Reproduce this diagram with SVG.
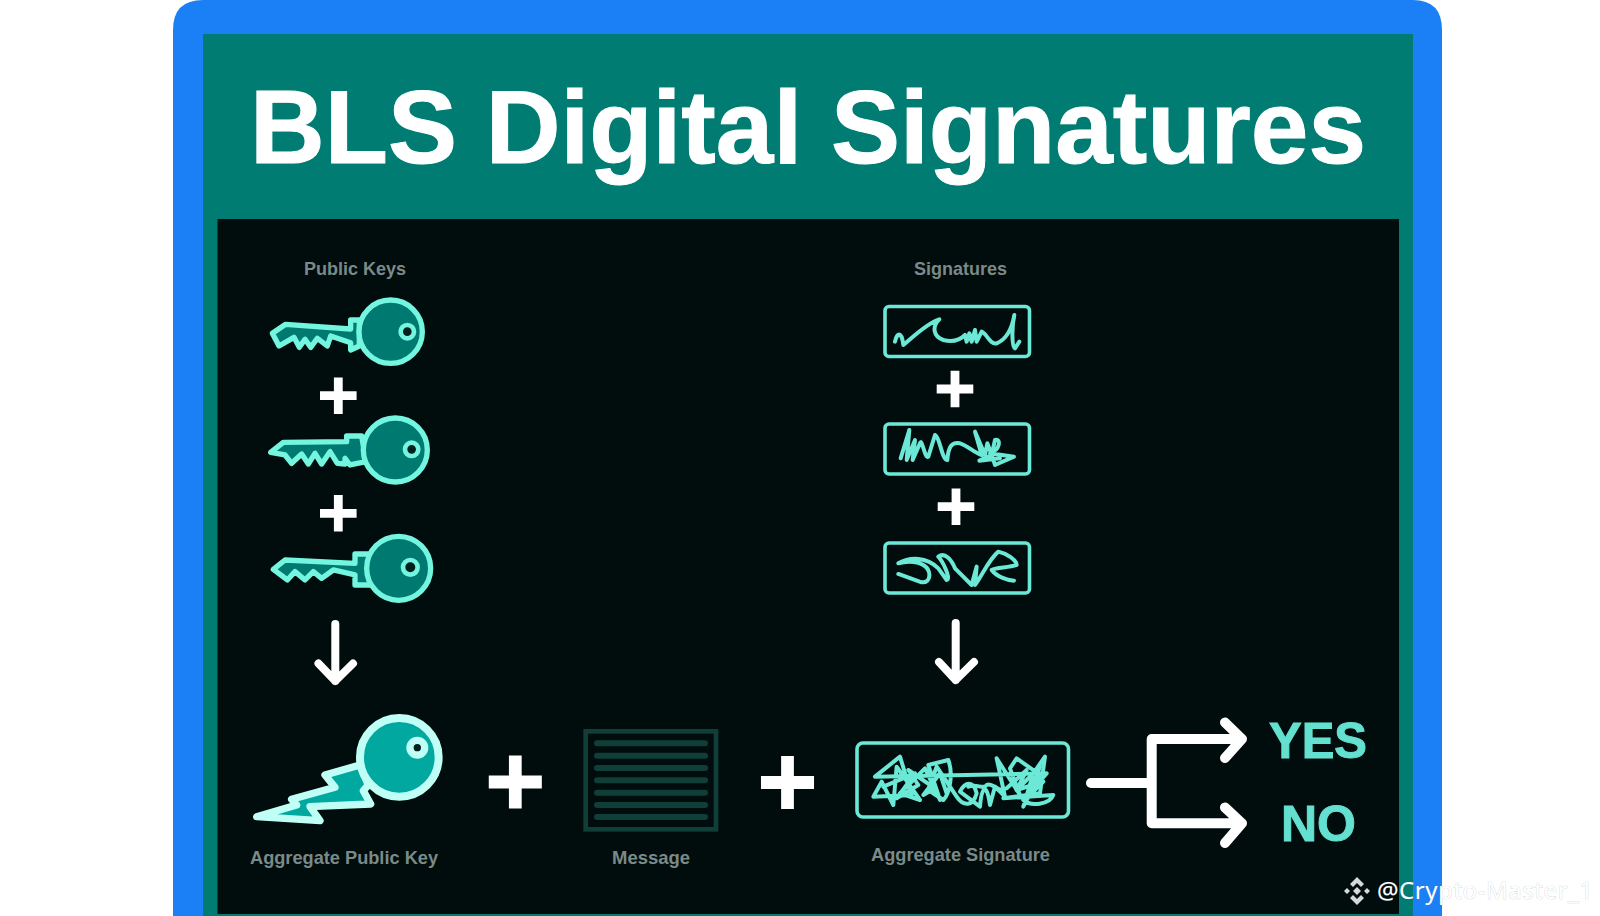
<svg xmlns="http://www.w3.org/2000/svg" width="1600" height="916" viewBox="0 0 1600 916">
<defs>
<style>
.t{font-family:"Liberation Sans",Arial,sans-serif;font-weight:700}
.lb{font-size:18.5px;fill:#7a8a89}
.ans{font-size:50px;fill:#64e0d0;stroke:#64e0d0;stroke-width:1}
.plus{fill:#fff}
.kf{fill:#007a70;stroke:#74f5df;stroke-width:16;stroke-linejoin:round}
.eye{fill:#03201f;stroke:#74f5df;stroke-width:14}
.sr{fill:none;stroke:#6ce8d6;stroke-width:3.6}
.sg{fill:none;stroke:#6ce8d6;stroke-width:12;stroke-linecap:round;stroke-linejoin:round}
.ar{fill:none;stroke:#fff;stroke-linecap:round;stroke-linejoin:round}
.ml{stroke:#103f3a;stroke-width:6;stroke-linecap:round}
</style>
<path id="p" d="M-18.300-4.400H-4.400V-18.300H4.400V-4.400H18.300V4.400H4.400V18.300H-4.400V4.400H-18.300Z"/>
</defs>
<rect width="1600" height="916" fill="#fff"/>
<g id="frame">
<path d="M173 916V30Q173 0 203 0H1413Q1442 0 1442 30V916Z" fill="#1b80f5"/>
<rect x="203" y="34" width="1210" height="882" fill="#007c72"/>
<rect x="217.500" y="219" width="1181.500" height="695" fill="#010c0c"/>
</g>
<text id="title" class="t" x="250" y="163" font-size="103" fill="#fff" stroke="#fff" stroke-width="1" textLength="1116" lengthAdjust="spacingAndGlyphs">BLS Digital Signatures</text>
<g id="public-keys">
<text class="t lb" x="304" y="275" textLength="102" lengthAdjust="spacingAndGlyphs">Public Keys</text>
<g id="key-1" transform="translate(240 280) scale(.3333)">
<path class="kf" d="M97 160L137 133L332 147V120H358V198L332 210V188L272 168L262 198L232 175L212 202L195 178L178 202L162 172L117 198Z"/>
<circle class="kf" cx="452" cy="155" r="95"/>
<circle class="eye" cx="502" cy="155" r="20"/>
</g>
<g id="key-2" transform="translate(240 280) scale(.3333)">
<path class="kf" d="M92 517L130 487L320 485V468H365L378 545L330 555L315 535V552L292 550L270 515L245 552L225 520L205 552L185 522L155 550L135 525Z"/>
<circle class="kf" cx="466" cy="510" r="96"/>
<circle class="eye" cx="515" cy="508" r="20"/>
</g>
<g id="key-3" transform="translate(240 280) scale(.3333)">
<path class="kf" d="M100 868L135 840L345 850V822H390V915L345 915V885L280 870L245 895L220 875L195 900L165 875L142 900Z"/>
<circle class="kf" cx="476" cy="865" r="96"/>
<circle class="eye" cx="511" cy="862" r="22"/>
</g>
<use href="#p" class="plus" x="338.300" y="395.700"/>
<use href="#p" class="plus" x="338.300" y="513.300"/>
</g>
<g id="signatures">
<text class="t lb" x="914" y="274.500" textLength="93" lengthAdjust="spacingAndGlyphs">Signatures</text>
<g id="sig-1"><rect class="sr" x="885" y="306.500" width="144.500" height="50" rx="4"/>
<path class="sg" transform="translate(860 290) scale(.3333)" d="M105 155C110 130 125 120 130 165C160 140 200 100 238 88C215 110 220 140 250 150C280 158 300 150 315 135L320 155L328 130L335 155L345 120L350 155L365 125C380 130 390 165 410 160C435 150 455 120 463 75C455 110 455 170 465 175L478 155"/></g>
<g id="sig-2"><rect class="sr" x="885" y="424" width="144.500" height="50" rx="4"/>
<path class="sg" transform="translate(860 290) scale(.3333)" d="M122 505L148 420L140 510L165 450L158 510L180 460C185 440 195 510 205 500L225 435C240 440 245 510 262 510C265 470 275 455 300 460C320 465 345 490 365 495L345 425L375 495L382 460L395 495L405 450C425 445 420 480 390 490L462 500L405 525L395 495L358 512L420 505"/></g>
<g id="sig-3"><rect class="sr" x="885" y="543" width="144.500" height="50" rx="4"/>
<path class="sg" transform="translate(860 290) scale(.3333)" d="M115 852L185 877C215 880 215 840 190 825C165 810 130 815 115 820C150 800 200 800 235 835L260 870C275 865 245 810 235 800C255 785 275 810 285 835L335 885L350 830L345 885C365 860 385 810 415 785C440 790 470 810 470 825C445 835 410 830 395 840C410 860 440 870 462 872"/></g>
<use href="#p" class="plus" x="955" y="389"/>
<use href="#p" class="plus" x="956" y="506.700"/>
</g>
<g id="connectors">
<path class="ar" stroke-width="8" d="M335.300 624V681M318.500 663.500L335.300 681L353 663.500"/>
<path class="ar" stroke-width="8" d="M955.700 623V680M939 662L955.700 680L974 662"/>
<path class="ar" stroke-width="10" d="M1091 783H1151.700M1242 739H1151.700V823.300H1242M1225 722.500L1242 739L1225 758M1225 807.500L1242 823.300L1225 843"/>
</g>
<g id="aggregate-public-key">
<g transform="translate(240 700) scale(.3333)">
<path d="M50 350L170 315L155 298L285 262L255 225L360 195L385 255L370 272L392 312L210 320L240 362Z" fill="#00a8a0" stroke="#c0fff5" stroke-width="22" stroke-linejoin="round"/>
<circle cx="478" cy="172" r="118" fill="#00a8a0" stroke="#c0fff5" stroke-width="24"/>
<circle cx="532" cy="143" r="22" fill="#03201f" stroke="#c0fff5" stroke-width="22"/>
</g>
<text class="t lb" x="250" y="863.500" textLength="188" lengthAdjust="spacingAndGlyphs">Aggregate Public Key</text>
</g>
<use id="plus-large-1" href="#p" class="plus" transform="translate(515.300 782) scale(1.45)"/>
<use id="plus-large-2" href="#p" class="plus" transform="translate(787.500 782.500) scale(1.45)"/>
<g id="message">
<rect x="585.700" y="731.300" width="130.300" height="98" fill="none" stroke="#103f3a" stroke-width="4.700"/>
<path class="ml" d="M597 743.300H705M597 755.700H705M597 768H705M597 780.300H705M597 792.700H705M597 805H705M597 817H705"/>
<text class="t lb" x="612" y="863.500" textLength="78" lengthAdjust="spacingAndGlyphs">Message</text>
</g>
<g id="aggregate-signature">
<rect class="sr" x="857" y="743" width="211.500" height="74" rx="6"/>
<path class="sg" transform="translate(840 710) scale(.3333)" d="M105 200L180 140L215 255L100 260L125 215L160 285L170 170L240 270L180 250L255 175L300 270L265 165L325 150C340 190 330 250 310 270L265 240L290 170L350 260C370 290 400 290 410 250C400 210 375 215 360 245L420 290C425 230 440 215 450 285L465 230L495 260L470 145L540 255L510 175L530 145L600 195L550 290L580 190L615 140L600 250L490 265L640 255C630 285 570 290 550 270L620 190L105 200"/>
<path class="sg" transform="translate(840 710) scale(.3333)" d="M130 230L225 190L170 265L235 225L205 180L285 235L250 255L300 190L320 250M385 230C410 220 430 240 440 225C460 215 470 250 500 235L560 180L530 240L610 215L565 260L600 170L545 225"/>
<text class="t lb" x="871" y="861" textLength="179" lengthAdjust="spacingAndGlyphs">Aggregate Signature</text>
</g>
<text id="yes" class="t ans" x="1269" y="758" textLength="98" lengthAdjust="spacingAndGlyphs">YES</text>
<text id="no" class="t ans" x="1281" y="841" textLength="75" lengthAdjust="spacingAndGlyphs">NO</text>
<g id="watermark">
<path d="M1357 877L1364 884L1361 887L1357 883L1353 887L1350 884ZM1344 891L1347 888L1350 891L1347 894ZM1364 891L1367 888L1370 891L1367 894ZM1353 891L1357 887L1361 891L1357 895ZM1350 898L1353 895L1357 899L1361 895L1364 898L1357 905Z" fill="#d6d9d9"/>
<text x="1377" y="899" font-family="'Noto Sans',sans-serif" font-size="24" fill="#fff" stroke="#7a8a9a" stroke-opacity=".45" stroke-width=".7" paint-order="stroke" textLength="216">@Crypto-Master_1</text>
</g>
</svg>
